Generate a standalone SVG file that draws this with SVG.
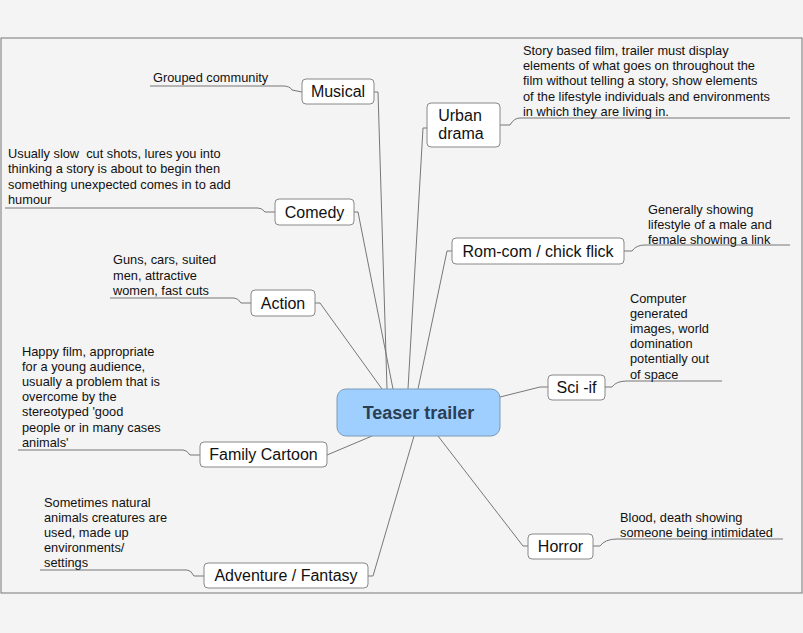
<svg xmlns="http://www.w3.org/2000/svg" width="803" height="633" viewBox="0 0 803 633">
<style>
.n rect{fill:#fff;stroke:#888;stroke-width:1}
.n text{font-family:"Liberation Sans",Arial,sans-serif;font-size:16px;fill:#111;text-anchor:middle}
.t{font-family:"Liberation Sans",Arial,sans-serif;font-size:12.8px;fill:#111}
#conn path{fill:none;stroke:#777;stroke-width:1}
</style>
<rect x="0" y="0" width="803" height="633" fill="#f4f4f4"/>
<rect x="1" y="38" width="801" height="555" fill="#f4f4f4" stroke="#777"/>
<g id="conn">
<path d="M374,92 H378 L387,389"/>
<path d="M427,128 H423 L408,389"/>
<path d="M354,212 H358 L393,389"/>
<path d="M315,303 H320 L382,389"/>
<path d="M452,251 H447 L418,389"/>
<path d="M548,387 H540 L500,397"/>
<path d="M327,455 L372,436"/>
<path d="M528,546 H523 L438,436"/>
<path d="M368,576 H373 L414,436"/>
<path d="M150,86 H283 Q290,86 292,90 L302,92"/>
<path d="M5,208 H258 Q262,208 265,212 L275,212"/>
<path d="M110,298 H234 Q238,298 241,303 L251,303"/>
<path d="M18,450 H183 Q187,450 190,455 L200,455"/>
<path d="M40,570 H187 Q191,570 194,576 L204,576"/>
<path d="M500,125 H510 Q514,118 520,118 H790"/>
<path d="M624,251 H632 Q636,245 645,245 H790"/>
<path d="M605,387 H612 Q616,381 627,381 H722"/>
<path d="M593,546 H600 Q605,539 617,539 H783"/>
</g>
<g id="center"><rect x="337" y="389" width="163" height="47" rx="9" fill="#9fcfff" stroke="#7a9ab8"/><text x="418.5" y="419" text-anchor="middle" style="font-family:'Liberation Sans',Arial,sans-serif;font-size:18px;font-weight:bold;fill:#2a3f55">Teaser trailer</text></g>
<g id="musical" class="n"><rect x="302" y="79" width="72" height="25" rx="4"/><text x="338" y="97">Musical</text></g>
<g id="urban" class="n"><rect x="427" y="103" width="73" height="44" rx="4"/><text x="460" y="121">Urban</text><text x="461" y="139">drama</text></g>
<g id="comedy" class="n"><rect x="275" y="199" width="79" height="26" rx="4"/><text x="314.5" y="218">Comedy</text></g>
<g id="romcom" class="n"><rect x="452" y="238" width="172" height="26" rx="4"/><text x="538" y="257">Rom-com / chick flick</text></g>
<g id="action" class="n"><rect x="251" y="290" width="64" height="26" rx="4"/><text x="283" y="309">Action</text></g>
<g id="scifi" class="n"><rect x="548" y="375" width="57" height="25" rx="4"/><text x="576.5" y="393">Sci -if</text></g>
<g id="family" class="n"><rect x="200" y="442" width="127" height="25" rx="4"/><text x="263.5" y="460">Family Cartoon</text></g>
<g id="horror" class="n"><rect x="528" y="534" width="65" height="25" rx="4"/><text x="560.5" y="552">Horror</text></g>
<g id="adventure" class="n"><rect x="204" y="563" width="164" height="25" rx="4"/><text x="286" y="581">Adventure / Fantasy</text></g>
<g class="t">
<text x="153" y="82">Grouped community</text>
<text x="8" y="158" style="white-space:pre">Usually slow  cut shots, lures you into</text>
<text x="8" y="173">thinking a story is about to begin then</text>
<text x="8" y="189">something unexpected comes in to add</text>
<text x="8" y="204">humour</text>
<text x="113" y="264">Guns, cars, suited</text>
<text x="113" y="280">men, attractive</text>
<text x="113" y="295">women, fast cuts</text>
<text x="22" y="356">Happy film, appropriate</text>
<text x="22" y="371">for a young audience,</text>
<text x="22" y="386">usually a problem that is</text>
<text x="22" y="401">overcome by the</text>
<text x="22" y="416">stereotyped 'good</text>
<text x="22" y="432">people or in many cases</text>
<text x="22" y="447">animals'</text>
<text x="44" y="507">Sometimes natural</text>
<text x="44" y="522">animals creatures are</text>
<text x="44" y="537">used, made up</text>
<text x="44" y="552">environments/</text>
<text x="44" y="567">settings</text>
<text x="523" y="55">Story based film, trailer must display</text>
<text x="523" y="70">elements of what goes on throughout the</text>
<text x="523" y="85">film without telling a story, show elements</text>
<text x="523" y="101">of the lifestyle individuals and environments</text>
<text x="523" y="116">in which they are living in.</text>
<text x="648" y="214">Generally showing</text>
<text x="648" y="229">lifestyle of a male and</text>
<text x="648" y="244">female showing a link</text>
<text x="630" y="303">Computer</text>
<text x="630" y="318">generated</text>
<text x="630" y="333">images, world</text>
<text x="630" y="348">domination</text>
<text x="630" y="363">potentially out</text>
<text x="630" y="379">of space</text>
<text x="620" y="522">Blood, death showing</text>
<text x="620" y="537">someone being intimidated</text>
</g>
</svg>
